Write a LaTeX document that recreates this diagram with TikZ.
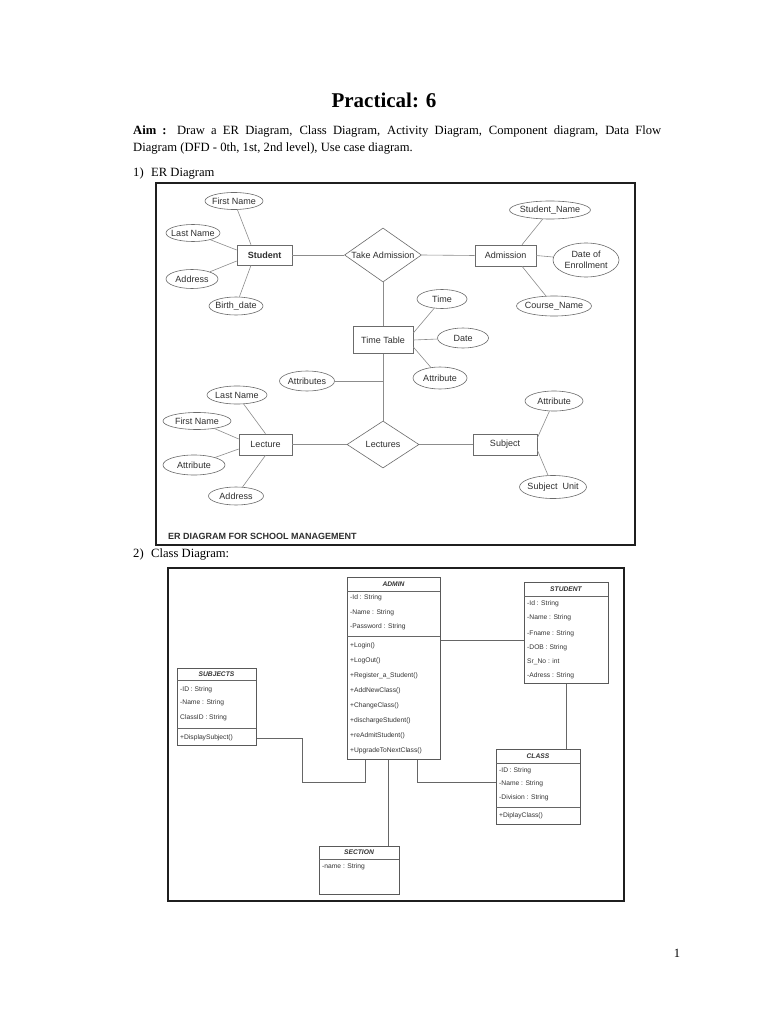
\documentclass[tikz,border=0pt]{standalone}
\usepackage{fontspec}
\setmainfont{Liberation Serif}
\newfontfamily\arial{Liberation Sans}
\usetikzlibrary{shapes.geometric,calc}
\definecolor{erline}{gray}{0.55}
\definecolor{erbox}{gray}{0.42}
\definecolor{ertext}{gray}{0.18}
\definecolor{framec}{gray}{0.12}
\definecolor{cdbox}{gray}{0.35}
\definecolor{cdline}{gray}{0.4}
\definecolor{ctext}{gray}{0.2}
\begin{document}
\begin{tikzpicture}[x=1pt,y=-1pt,
  ertxt/.style={font=\arial\fontsize{9}{10.8}\selectfont,text=ertext,inner sep=0pt},
  attr/.style={ellipse,draw=erbox,line width=0.6pt,inner sep=0pt},
  ent/.style={rectangle,draw=erbox,line width=0.6pt,inner sep=0pt,ertxt},
  rel/.style={diamond,draw=erbox,line width=0.6pt,inner sep=0pt},
  erl/.style={draw=erline,line width=0.6pt},
  cbox/.style={rectangle,draw=cdbox,line width=0.7pt,anchor=north west,inner sep=0pt},
  ctxt/.style={anchor=west,inner sep=0pt,font=\arial\fontsize{6.7}{8}\selectfont,text=ctext},
  chead/.style={anchor=center,inner sep=0pt,font=\arial\bfseries\itshape\fontsize{6.7}{8}\selectfont,text=ctext},
  cl/.style={draw=cdline,line width=0.7pt},
  body/.style={anchor=base west,inner sep=0pt,font=\fontsize{12.6}{15}\selectfont},
  frm/.style={draw=framec,line width=1.1pt}
]
\useasboundingbox (0,0) rectangle (768,1024);
\fill[white] (0,0) rectangle (768,1024);

% ---------- page text ----------
\node[inner sep=0pt,font=\bfseries\fontsize{21}{25}\selectfont] (title) at (384,100) {Practical: 6};
\node[body] (aim) at (133,135) {\makebox[528pt][s]{\textbf{Aim :} Draw a ER Diagram, Class Diagram, Activity Diagram, Component diagram, Data Flow}};
\node[body] (aim2) at (133,152) {Diagram (DFD - 0th, 1st, 2nd level), Use case diagram.};
\node[body] (n1) at (133,177) {1)};
\node[body] (h1) at (151,177) {ER Diagram};
\node[body] (n2) at (133,557) {2)};
\node[body] (h2) at (151,557) {Class Diagram:};
\node[inner sep=0pt,font=\fontsize{12.6}{15}\selectfont] (pg) at (677,953) {1};

% ---------- ER diagram ----------
\draw[frm] (156,183) rectangle (635,545);
\node[anchor=west,inner sep=0pt,font=\arial\bfseries\fontsize{9}{11}\selectfont,text=ertext] (ercap) at (168,536) {ER DIAGRAM FOR SCHOOL MANAGEMENT};

\node[ent,minimum width=55pt,minimum height=20pt,font=\arial\bfseries\fontsize{9}{10.8}\selectfont] (student) at (264.5,255) {Student};
\node[attr,minimum width=58pt,minimum height=17pt,label={[ertxt]center:First Name}] (fn1) at (234,201) {};
\node[attr,minimum width=54pt,minimum height=17pt,label={[ertxt]center:Last Name}] (ln1) at (193,233) {};
\node[attr,minimum width=52pt,minimum height=19pt,label={[ertxt]center:Address}] (addr1) at (192,279) {};
\node[attr,minimum width=54pt,minimum height=18pt,label={[ertxt]center:Birth\_date}] (bd) at (236,306) {};

\node[rel,minimum width=77pt,minimum height=54pt,label={[ertxt]center:Take Admission}] (takeadm) at (383,255) {};

\node[ent,minimum width=61pt,minimum height=21pt] (admission) at (505.5,255.5) {Admission};
\node[attr,minimum width=81pt,minimum height=18pt,label={[ertxt]center:Student\_Name}] (sname) at (550,210) {};
\node[attr,minimum width=66pt,minimum height=34pt,label={[ertxt,align=center]center:Date of\\Enrollment}] (doe) at (586,260) {};
\node[attr,minimum width=75pt,minimum height=20pt,label={[ertxt]center:Course\_Name}] (cname) at (554,306) {};

\node[ent,minimum width=60pt,minimum height=27pt] (timetable) at (383,340) {Time Table};
\node[attr,minimum width=50pt,minimum height=19pt,label={[ertxt]center:Time}] (time) at (442,299) {};
\node[attr,minimum width=51pt,minimum height=20pt,label={[ertxt]center:Date}] (date) at (463,338) {};
\node[attr,minimum width=54pt,minimum height=22pt,label={[ertxt]center:Attribute}] (attr2) at (440,378) {};
\node[attr,minimum width=55pt,minimum height=20pt,label={[ertxt]center:Attributes}] (attrs) at (307,381) {};

\node[rel,minimum width=72pt,minimum height=47pt,label={[ertxt]center:Lectures}] (lectures) at (383,444.5) {};

\node[ent,minimum width=53pt,minimum height=21pt] (lecture) at (265.5,444.5) {Lecture};
\node[attr,minimum width=60pt,minimum height=18pt,label={[ertxt]center:Last Name}] (ln2) at (237,395) {};
\node[attr,minimum width=68pt,minimum height=17pt,label={[ertxt]center:First Name}] (fn2) at (197,421) {};
\node[attr,minimum width=62pt,minimum height=20pt,label={[ertxt]center:Attribute}] (attr3) at (194,465) {};
\node[attr,minimum width=55pt,minimum height=18pt,label={[ertxt]center:Address}] (addr2) at (236,496) {};

\node[ent,minimum width=64pt,minimum height=21pt] (subject) at (505,444.5) {Subject};
\node[attr,minimum width=58pt,minimum height=20pt,label={[ertxt]center:Attribute}] (attr4) at (554,401) {};
\node[attr,minimum width=67pt,minimum height=23pt,label={[ertxt]center:Subject~~Unit}] (sunit) at (553,487) {};

% ER connectors
\draw[erl] (fn1) -- ([xshift=-13.5pt]student.north);
\draw[erl] (ln1) -- ([yshift=5pt]student.west);
\draw[erl] (addr1) -- ([yshift=-6pt]student.west);
\draw[erl] (bd) -- ([xshift=-13.5pt]student.south);
\draw[erl] (student.east) -- (takeadm.west);
\draw[erl] (takeadm.east) -- (admission.west);
\draw[erl] (sname) -- ([xshift=16.5pt]admission.north);
\draw[erl] (doe) -- (admission.east);
\draw[erl] (cname) -- ([xshift=16.5pt]admission.south);
\draw[erl] (takeadm.south) -- (timetable.north);
\draw[erl] (time) -- ([yshift=7pt]timetable.east);
\draw[erl] (date) -- (timetable.east);
\draw[erl] (attr2) -- ([yshift=-7pt]timetable.east);
\draw[erl] (timetable.south) -- (lectures.north);
\coordinate (tap) at (attrs -| timetable.center);
\draw[erl] (attrs) -- (tap);
\draw[erl] (ln2) -- (lecture.north);
\draw[erl] (fn2) -- ([yshift=5.5pt]lecture.west);
\draw[erl] (attr3) -- ([yshift=-4.5pt]lecture.west);
\draw[erl] (addr2) -- (lecture.south);
\draw[erl] (lecture.east) -- (lectures.west);
\draw[erl] (lectures.east) -- (subject.west);
\draw[erl] (attr4) -- ([yshift=6.5pt]subject.east);
\draw[erl] (sunit) -- ([yshift=-5.5pt]subject.east);

% ---------- Class diagram ----------
\draw[frm] (168,568) rectangle (624,901);

% ADMIN
\node[cbox,minimum width=93pt,minimum height=182pt] (admin) at (347,577) {};
\draw[cl] (347,591) -- (440,591);
\draw[cl] (347,636) -- (440,636);
\node[chead] (adminh) at (393.5,584) {ADMIN};
\node[ctxt] (ad1) at (350,598) {-Id : String};
\node[ctxt] (ad2) at (350,613) {-Name : String};
\node[ctxt] (ad3) at (350,627) {-Password : String};
\node[ctxt] (am1) at (350,646) {+Login()};
\node[ctxt] (am2) at (350,661) {+LogOut()};
\node[ctxt] (am3) at (350,676) {+Register\_a\_Student()};
\node[ctxt] (am4) at (350,691) {+AddNewClass()};
\node[ctxt] (am5) at (350,706) {+ChangeClass()};
\node[ctxt] (am6) at (350,721) {+dischargeStudent()};
\node[ctxt] (am7) at (350,736) {+reAdmitStudent()};
\node[ctxt] (am8) at (350,751) {+UpgradeToNextClass()};

% STUDENT
\node[cbox,minimum width=84pt,minimum height=101pt] (stud) at (524,582) {};
\draw[cl] (524,596) -- (608,596);
\node[chead] (studh) at (566,589) {STUDENT};
\node[ctxt] (s1) at (527,604) {-Id : String};
\node[ctxt] (s2) at (527,618) {-Name : String};
\node[ctxt] (s3) at (527,634) {-Fname : String};
\node[ctxt] (s4) at (527,648) {-DOB : String};
\node[ctxt] (s5) at (527,662) {Sr\_No : int};
\node[ctxt] (s6) at (527,676) {-Adress : String};

% SUBJECTS
\node[cbox,minimum width=79pt,minimum height=77pt] (subj) at (177,668) {};
\draw[cl] (177,680) -- (256,680);
\draw[cl] (177,728) -- (256,728);
\node[chead] (subjh) at (216.5,674) {SUBJECTS};
\node[ctxt] (sb1) at (180,690) {-ID : String};
\node[ctxt] (sb2) at (180,703) {-Name : String};
\node[ctxt] (sb3) at (180,718) {ClassID : String};
\node[ctxt] (sbm) at (180,738) {+DisplaySubject()};

% CLASS
\node[cbox,minimum width=84pt,minimum height=75pt] (cls) at (496,749) {};
\draw[cl] (496,763) -- (580,763);
\draw[cl] (496,807) -- (580,807);
\node[chead] (clsh) at (538,756) {CLASS};
\node[ctxt] (c1) at (499,771) {-ID : String};
\node[ctxt] (c2) at (499,784) {-Name : String};
\node[ctxt] (c3) at (499,798) {-Division : String};
\node[ctxt] (cm) at (499,816) {+DiplayClass()};

% SECTION
\node[cbox,minimum width=80pt,minimum height=48pt] (sec) at (319,846) {};
\draw[cl] (319,859) -- (399,859);
\node[chead] (sech) at (359,852) {SECTION};
\node[ctxt] (se1) at (322,867) {-name : String};

% class connectors
\coordinate (k1) at (302,782);
\coordinate (as1) at ([xshift=-28.5pt]admin.south);
\coordinate (as2) at ([xshift=23.5pt]admin.south);
\coordinate (as3) at ([xshift=-5.5pt]admin.south);
\coordinate (aport) at ([yshift=28pt]admin.east);
\draw[cl] (subj.east |- sbm) -| (k1) -| (as1);
\draw[cl] (aport) -- (aport -| stud.west);
\draw[cl] (stud.south) -- (stud.south |- cls.north);
\draw[cl] (as2) |- (k1 -| cls.west);
\draw[cl] (as3) -- (as3 |- sec.north);
\end{tikzpicture}
\end{document}
